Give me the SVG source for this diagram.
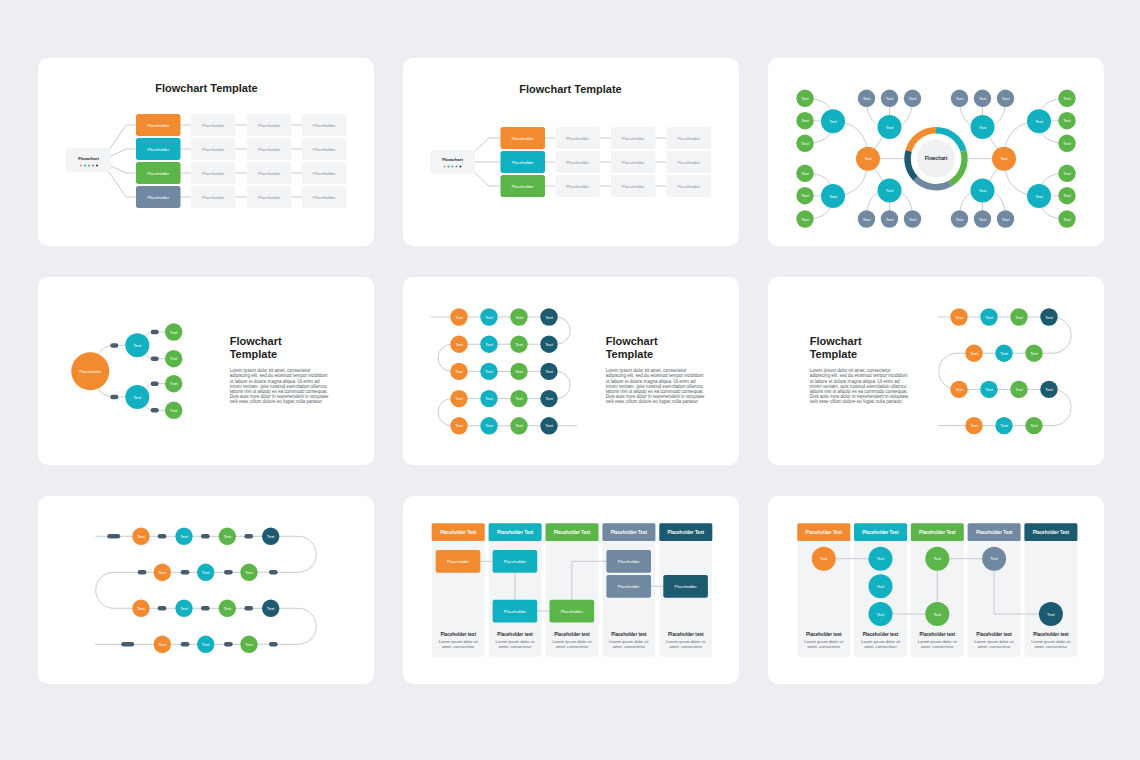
<svg xmlns="http://www.w3.org/2000/svg" width="1140" height="760" viewBox="0 0 1140 760">
<defs><style>
text{font-family:"Liberation Sans",Arial,sans-serif;text-anchor:middle}
.bg{fill:#eceef1}
.card{fill:#fff}
.ttl{font-size:11px;font-weight:bold;fill:#1e1e20}
.ttl2{font-size:11px;font-weight:bold;fill:#1e1e20;text-anchor:start}
.para{font-size:4.55px;fill:#545c66;text-anchor:start}
.w{font-size:4.2px;fill:#fff}
.wb{font-size:4.6px;fill:#fff;font-weight:bold}
.g{font-size:4.3px;fill:#8b9199}
.nb{font-size:4.6px;fill:#26282b;font-weight:bold}
.sm{font-size:4.1px;fill:#5e656e}
.ln{fill:none;stroke:#b9bec4;stroke-width:0.8}
.o{fill:#f28a30}.t{fill:#12b1c1}.gr{fill:#5cb548}.s{fill:#7088a0}.d{fill:#1c5a70}
.gb{fill:#f3f4f5}
.pill{fill:#485c6e}
.col{fill:#f3f4f6}
.ring{fill:none;stroke-width:6.4}
</style></defs>
<rect class="bg" x="0" y="0" width="1140" height="760"/>

<!-- ===== Slide 1 ===== -->
<g id="card1"><rect class="card" x="38" y="58" width="336" height="188" rx="10"/>
<text class="ttl" x="206.5" y="92">Flowchart Template</text></g>
<g id="s1-connectors">
<path class="ln" d="M109,150 L126,125 H136 M111,156 L126,149 H136 M111,166 L126,173 H136 M109,172 L126,197 H136"/>
<path class="ln" d="M180.5,125H191M235.5,125H247M291.5,125H302M180.5,149H191M235.5,149H247M291.5,149H302M180.5,173H191M235.5,173H247M291.5,173H302M180.5,197H191M235.5,197H247M291.5,197H302"/>
</g>
<g id="s1-root"><rect class="gb" x="66" y="148" width="45" height="24" rx="3"/><text class="nb" x="88.5" y="159.8" style="font-size:4.4px">Flowchart</text>
<circle class="o" cx="81" cy="165.5" r="1"/><circle class="t" cx="85" cy="165.5" r="1"/><circle class="gr" cx="89" cy="165.5" r="1"/><circle class="s" cx="93" cy="165.5" r="1"/><circle fill="#1f2b33" cx="97" cy="165.5" r="1"/></g>
<g id="s1-a1"><rect class="o" x="136" y="114" width="44.5" height="22" rx="2.5"/><text class="w" x="158.2" y="126.5">Placeholder</text></g>
<g id="s1-a2"><rect class="t" x="136" y="138" width="44.5" height="22" rx="2.5"/><text class="w" x="158.2" y="150.5">Placeholder</text></g>
<g id="s1-a3"><rect class="gr" x="136" y="162" width="44.5" height="22" rx="2.5"/><text class="w" x="158.2" y="174.5">Placeholder</text></g>
<g id="s1-a4"><rect class="s" x="136" y="186" width="44.5" height="22" rx="2.5"/><text class="w" x="158.2" y="198.5">Placeholder</text></g>
<g id="s1-b1"><rect class="gb" x="191" y="114" width="44.5" height="22" rx="2.5"/><text class="g" x="213.2" y="126.5">Placeholder</text></g>
<g id="s1-b2"><rect class="gb" x="191" y="138" width="44.5" height="22" rx="2.5"/><text class="g" x="213.2" y="150.5">Placeholder</text></g>
<g id="s1-b3"><rect class="gb" x="191" y="162" width="44.5" height="22" rx="2.5"/><text class="g" x="213.2" y="174.5">Placeholder</text></g>
<g id="s1-b4"><rect class="gb" x="191" y="186" width="44.5" height="22" rx="2.5"/><text class="g" x="213.2" y="198.5">Placeholder</text></g>
<g id="s1-c1"><rect class="gb" x="247" y="114" width="44.5" height="22" rx="2.5"/><text class="g" x="269.2" y="126.5">Placeholder</text></g>
<g id="s1-c2"><rect class="gb" x="247" y="138" width="44.5" height="22" rx="2.5"/><text class="g" x="269.2" y="150.5">Placeholder</text></g>
<g id="s1-c3"><rect class="gb" x="247" y="162" width="44.5" height="22" rx="2.5"/><text class="g" x="269.2" y="174.5">Placeholder</text></g>
<g id="s1-c4"><rect class="gb" x="247" y="186" width="44.5" height="22" rx="2.5"/><text class="g" x="269.2" y="198.5">Placeholder</text></g>
<g id="s1-d1"><rect class="gb" x="302" y="114" width="44.5" height="22" rx="2.5"/><text class="g" x="324.2" y="126.5">Placeholder</text></g>
<g id="s1-d2"><rect class="gb" x="302" y="138" width="44.5" height="22" rx="2.5"/><text class="g" x="324.2" y="150.5">Placeholder</text></g>
<g id="s1-d3"><rect class="gb" x="302" y="162" width="44.5" height="22" rx="2.5"/><text class="g" x="324.2" y="174.5">Placeholder</text></g>
<g id="s1-d4"><rect class="gb" x="302" y="186" width="44.5" height="22" rx="2.5"/><text class="g" x="324.2" y="198.5">Placeholder</text></g>

<!-- ===== Slide 2 ===== -->
<g id="card2"><rect class="card" x="403" y="58" width="336" height="188" rx="10"/>
<text class="ttl" x="570.5" y="92.5">Flowchart Template</text></g>
<g id="s2-connectors">
<path class="ln" d="M474.5,151.5 L489,138 H500.5 M475,162 H500.5 M474.5,172.5 L489,186 H500.5"/>
<path class="ln" d="M545,138H555.5M600,138H611M655.5,138H666.5M545,162H555.5M600,162H611M655.5,162H666.5M545,186H555.5M600,186H611M655.5,186H666.5"/>
</g>
<g id="s2-root"><rect class="gb" x="430" y="150" width="45" height="23.5" rx="3"/><text class="nb" x="452.5" y="161.3" style="font-size:4.4px">Flowchart</text>
<circle class="o" cx="444.5" cy="166.5" r="1"/><circle class="t" cx="448.5" cy="166.5" r="1"/><circle class="gr" cx="452.5" cy="166.5" r="1"/><circle class="s" cx="456.5" cy="166.5" r="1"/><circle fill="#1f2b33" cx="460.5" cy="166.5" r="1"/></g>
<g id="s2-a1"><rect class="o" x="500.5" y="127" width="44.5" height="22" rx="2.5"/><text class="w" x="522.7" y="139.5">Placeholder</text></g>
<g id="s2-a2"><rect class="t" x="500.5" y="151" width="44.5" height="22" rx="2.5"/><text class="w" x="522.7" y="163.5">Placeholder</text></g>
<g id="s2-a3"><rect class="gr" x="500.5" y="175" width="44.5" height="22" rx="2.5"/><text class="w" x="522.7" y="187.5">Placeholder</text></g>
<g id="s2-b1"><rect class="gb" x="555.5" y="127" width="44.5" height="22" rx="2.5"/><text class="g" x="577.7" y="139.5">Placeholder</text></g>
<g id="s2-b2"><rect class="gb" x="555.5" y="151" width="44.5" height="22" rx="2.5"/><text class="g" x="577.7" y="163.5">Placeholder</text></g>
<g id="s2-b3"><rect class="gb" x="555.5" y="175" width="44.5" height="22" rx="2.5"/><text class="g" x="577.7" y="187.5">Placeholder</text></g>
<g id="s2-c1"><rect class="gb" x="611" y="127" width="44.5" height="22" rx="2.5"/><text class="g" x="633.2" y="139.5">Placeholder</text></g>
<g id="s2-c2"><rect class="gb" x="611" y="151" width="44.5" height="22" rx="2.5"/><text class="g" x="633.2" y="163.5">Placeholder</text></g>
<g id="s2-c3"><rect class="gb" x="611" y="175" width="44.5" height="22" rx="2.5"/><text class="g" x="633.2" y="187.5">Placeholder</text></g>
<g id="s2-d1"><rect class="gb" x="666.5" y="127" width="44.5" height="22" rx="2.5"/><text class="g" x="688.7" y="139.5">Placeholder</text></g>
<g id="s2-d2"><rect class="gb" x="666.5" y="151" width="44.5" height="22" rx="2.5"/><text class="g" x="688.7" y="163.5">Placeholder</text></g>
<g id="s2-d3"><rect class="gb" x="666.5" y="175" width="44.5" height="22" rx="2.5"/><text class="g" x="688.7" y="187.5">Placeholder</text></g>

<!-- ===== Slide 3 ===== -->
<g id="card3"><rect class="card" x="768" y="58" width="336" height="188" rx="10"/></g>
<g id="s3-connectors">
<path class="ln" d="M868,158.7H904M868,158.7L889.5,127M868,158.7L889.5,190.5M833,121.3C856,121.3 868,136 868,158.7M833,196C856,196 868,181 868,158.7M805,98.3C824,98.3 833,106 833,121.3M805,120.7L833,121.3M805,143.3C824,143.3 833,136 833,121.3M805,173.3C824,173.3 833,181 833,196M805,195.7L833,196M805,219C824,219 833,211 833,196M866.5,98.3C866.5,117 874,127 889.5,127M889.5,98.3V127M912.5,98.3C912.5,117 905,127 889.5,127M866.5,219C866.5,200 874,190.5 889.5,190.5M889.5,219V190.5M912.5,219C912.5,200 905,190.5 889.5,190.5"/>
<path class="ln" d="M1004,158.7H968M1004,158.7L982.5,127M1004,158.7L982.5,190.5M1039,121.3C1016,121.3 1004,136 1004,158.7M1039,196C1016,196 1004,181 1004,158.7M1067,98.3C1048,98.3 1039,106 1039,121.3M1067,120.7L1039,121.3M1067,143.3C1048,143.3 1039,136 1039,121.3M1067,173.3C1048,173.3 1039,181 1039,196M1067,195.7L1039,196M1067,219C1048,219 1039,211 1039,196M1005.5,98.3C1005.5,117 998,127 982.5,127M982.5,98.3V127M959.5,98.3C959.5,117 967,127 982.5,127M1005.5,219C1005.5,200 998,190.5 982.5,190.5M982.5,219V190.5M959.5,219C959.5,200 967,190.5 982.5,190.5"/>
</g>
<g id="s3-center">
<path class="ring" stroke="#f28a30" d="M908.6,150.8A28.5,28.5 0 0 1 936,130.2"/>
<path class="ring" stroke="#12b1c1" d="M936,130.2A28.5,28.5 0 0 1 963.4,150.8"/>
<path class="ring" stroke="#5cb548" d="M963.4,150.8A28.5,28.5 0 0 1 950.25,183.4"/>
<path class="ring" stroke="#7088a0" d="M950.25,183.4A28.5,28.5 0 0 1 915.5,178.5"/>
<path class="ring" stroke="#1c5a70" d="M915.5,178.5A28.5,28.5 0 0 1 908.6,150.8"/>
<circle cx="936" cy="158.7" r="19" fill="#f0f1f3"/>
<text class="nb" x="936" y="160.3" style="font-size:4.8px">Flowchart</text></g>
<g id="s3-o1"><circle class="o" cx="868" cy="158.7" r="12"/><text class="w" x="868" y="160.2">Text</text></g>
<g id="s3-o2"><circle class="o" cx="1004" cy="158.7" r="12"/><text class="w" x="1004" y="160.2">Text</text></g>
<g id="s3-t1"><circle class="t" cx="833" cy="121.3" r="12"/><text class="w" x="833" y="122.8">Text</text></g>
<g id="s3-t2"><circle class="t" cx="833" cy="196" r="12"/><text class="w" x="833" y="197.5">Text</text></g>
<g id="s3-t3"><circle class="t" cx="889.5" cy="127" r="12"/><text class="w" x="889.5" y="128.5">Text</text></g>
<g id="s3-t4"><circle class="t" cx="889.5" cy="190.5" r="12"/><text class="w" x="889.5" y="192">Text</text></g>
<g id="s3-t5"><circle class="t" cx="982.5" cy="127" r="12"/><text class="w" x="982.5" y="128.5">Text</text></g>
<g id="s3-t6"><circle class="t" cx="982.5" cy="190.5" r="12"/><text class="w" x="982.5" y="192">Text</text></g>
<g id="s3-t7"><circle class="t" cx="1039" cy="121.3" r="12"/><text class="w" x="1039" y="122.8">Text</text></g>
<g id="s3-t8"><circle class="t" cx="1039" cy="196" r="12"/><text class="w" x="1039" y="197.5">Text</text></g>
<g id="s3-g1"><circle class="gr" cx="805" cy="98.3" r="8.7"/><text class="w" x="805" y="99.8">Text</text></g>
<g id="s3-g2"><circle class="gr" cx="805" cy="120.7" r="8.7"/><text class="w" x="805" y="122.2">Text</text></g>
<g id="s3-g3"><circle class="gr" cx="805" cy="143.3" r="8.7"/><text class="w" x="805" y="144.8">Text</text></g>
<g id="s3-g4"><circle class="gr" cx="805" cy="173.3" r="8.7"/><text class="w" x="805" y="174.8">Text</text></g>
<g id="s3-g5"><circle class="gr" cx="805" cy="195.7" r="8.7"/><text class="w" x="805" y="197.2">Text</text></g>
<g id="s3-g6"><circle class="gr" cx="805" cy="219" r="8.7"/><text class="w" x="805" y="220.5">Text</text></g>
<g id="s3-g7"><circle class="gr" cx="1067" cy="98.3" r="8.7"/><text class="w" x="1067" y="99.8">Text</text></g>
<g id="s3-g8"><circle class="gr" cx="1067" cy="120.7" r="8.7"/><text class="w" x="1067" y="122.2">Text</text></g>
<g id="s3-g9"><circle class="gr" cx="1067" cy="143.3" r="8.7"/><text class="w" x="1067" y="144.8">Text</text></g>
<g id="s3-g10"><circle class="gr" cx="1067" cy="173.3" r="8.7"/><text class="w" x="1067" y="174.8">Text</text></g>
<g id="s3-g11"><circle class="gr" cx="1067" cy="195.7" r="8.7"/><text class="w" x="1067" y="197.2">Text</text></g>
<g id="s3-g12"><circle class="gr" cx="1067" cy="219" r="8.7"/><text class="w" x="1067" y="220.5">Text</text></g>
<g id="s3-s1"><circle class="s" cx="866.5" cy="98.3" r="8.7"/><text class="w" x="866.5" y="99.8">Text</text></g>
<g id="s3-s2"><circle class="s" cx="889.5" cy="98.3" r="8.7"/><text class="w" x="889.5" y="99.8">Text</text></g>
<g id="s3-s3"><circle class="s" cx="912.5" cy="98.3" r="8.7"/><text class="w" x="912.5" y="99.8">Text</text></g>
<g id="s3-s4"><circle class="s" cx="866.5" cy="219" r="8.7"/><text class="w" x="866.5" y="220.5">Text</text></g>
<g id="s3-s5"><circle class="s" cx="889.5" cy="219" r="8.7"/><text class="w" x="889.5" y="220.5">Text</text></g>
<g id="s3-s6"><circle class="s" cx="912.5" cy="219" r="8.7"/><text class="w" x="912.5" y="220.5">Text</text></g>
<g id="s3-s7"><circle class="s" cx="959.5" cy="98.3" r="8.7"/><text class="w" x="959.5" y="99.8">Text</text></g>
<g id="s3-s8"><circle class="s" cx="982.5" cy="98.3" r="8.7"/><text class="w" x="982.5" y="99.8">Text</text></g>
<g id="s3-s9"><circle class="s" cx="1005.5" cy="98.3" r="8.7"/><text class="w" x="1005.5" y="99.8">Text</text></g>
<g id="s3-s10"><circle class="s" cx="959.5" cy="219" r="8.7"/><text class="w" x="959.5" y="220.5">Text</text></g>
<g id="s3-s11"><circle class="s" cx="982.5" cy="219" r="8.7"/><text class="w" x="982.5" y="220.5">Text</text></g>
<g id="s3-s12"><circle class="s" cx="1005.5" cy="219" r="8.7"/><text class="w" x="1005.5" y="220.5">Text</text></g>

<!-- ===== Slide 4 ===== -->
<g id="card4"><rect class="card" x="38" y="277" width="336" height="188" rx="10"/>
<text class="ttl2" x="229.7" y="344.7">Flowchart</text><text class="ttl2" x="229.7" y="358.3">Template</text>
<text class="para" x="229.7" y="372.2">Lorem ipsum dolor sit amet, consectetur</text>
<text class="para" x="229.7" y="377.4">adipiscing elit, sed do eiusmod tempor incididunt</text>
<text class="para" x="229.7" y="382.6">ut labore et dolore magna aliqua. Ut enim ad</text>
<text class="para" x="229.7" y="387.8">minim veniam, quis nostrud exercitation ullamco</text>
<text class="para" x="229.7" y="393">laboris nisi ut aliquip ex ea commodo consequat.</text>
<text class="para" x="229.7" y="398.2">Duis aute irure dolor in reprehenderit in voluptate</text>
<text class="para" x="229.7" y="403.4">velit esse cillum dolore eu fugiat nulla pariatur.</text></g>
<g id="s4-connectors">
<path class="ln" d="M98,353.7C103,348 107,345.3 114.3,345.3H137.3M98,389C103,394.5 107,397 114.3,397H137.3M137.3,345.3C145,336 148,332 155,332H173.7M137.3,345.3C145,355 148,358.7 155,358.7H173.7M137.3,397C145,388 148,383.7 155,383.7H173.7M137.3,397C145,406 148,410.3 155,410.3H173.7"/>
</g>
<g id="s4-root"><circle class="o" cx="90.3" cy="371.3" r="19"/><text class="w" x="90.3" y="372.8">Placeholder</text></g>
<g id="s4-t1"><circle class="t" cx="137.3" cy="345.3" r="12"/><text class="w" x="137.3" y="346.8">Text</text></g>
<g id="s4-t2"><circle class="t" cx="137.3" cy="397" r="12"/><text class="w" x="137.3" y="398.5">Text</text></g>
<g id="s4-g1"><circle class="gr" cx="173.7" cy="332" r="8.7"/><text class="w" x="173.7" y="333.5">Text</text></g>
<g id="s4-g2"><circle class="gr" cx="173.7" cy="358.7" r="8.7"/><text class="w" x="173.7" y="360.2">Text</text></g>
<g id="s4-g3"><circle class="gr" cx="173.7" cy="383.7" r="8.7"/><text class="w" x="173.7" y="385.2">Text</text></g>
<g id="s4-g4"><circle class="gr" cx="173.7" cy="410.3" r="8.7"/><text class="w" x="173.7" y="411.8">Text</text></g>
<g id="s4-pills">
<rect class="pill" x="110.3" y="343.3" width="8" height="4.4" rx="2.2"/>
<rect class="pill" x="110.3" y="394.8" width="8" height="4.4" rx="2.2"/>
<rect class="pill" x="150.7" y="329.8" width="8" height="4.4" rx="2.2"/>
<rect class="pill" x="150.7" y="356.5" width="8" height="4.4" rx="2.2"/>
<rect class="pill" x="150.7" y="381.5" width="8" height="4.4" rx="2.2"/>
<rect class="pill" x="150.7" y="408.1" width="8" height="4.4" rx="2.2"/></g>

<!-- ===== Slide 5 ===== -->
<g id="card5"><rect class="card" x="403" y="277" width="336" height="188" rx="10"/>
<text class="ttl2" x="605.7" y="344.7">Flowchart</text><text class="ttl2" x="605.7" y="358.3">Template</text>
<text class="para" x="605.7" y="372.2">Lorem ipsum dolor sit amet, consectetur</text>
<text class="para" x="605.7" y="377.4">adipiscing elit, sed do eiusmod tempor incididunt</text>
<text class="para" x="605.7" y="382.6">ut labore et dolore magna aliqua. Ut enim ad</text>
<text class="para" x="605.7" y="387.8">minim veniam, quis nostrud exercitation ullamco</text>
<text class="para" x="605.7" y="393">laboris nisi ut aliquip ex ea commodo consequat.</text>
<text class="para" x="605.7" y="398.2">Duis aute irure dolor in reprehenderit in voluptate</text>
<text class="para" x="605.7" y="403.4">velit esse cillum dolore eu fugiat nulla pariatur.</text></g>
<g id="s5-connectors"><path class="ln" d="M431,317H556.6A13.6,13.6 0 0 1 556.6,344.2H451.6A13.6,13.6 0 0 0 451.6,371.4H556.6A13.6,13.6 0 0 1 556.6,398.6H451.6A13.6,13.6 0 0 0 451.6,425.8H577"/></g>
<g id="s5-r1">
<g id="s5-1a"><circle class="o" cx="459" cy="317" r="8.7"/><text class="w" x="459" y="318.5">Text</text></g>
<g id="s5-1b"><circle class="t" cx="489" cy="317" r="8.7"/><text class="w" x="489" y="318.5">Text</text></g>
<g id="s5-1c"><circle class="gr" cx="519" cy="317" r="8.7"/><text class="w" x="519" y="318.5">Text</text></g>
<g id="s5-1d"><circle class="d" cx="549" cy="317" r="8.7"/><text class="w" x="549" y="318.5">Text</text></g></g>
<g id="s5-r2">
<g id="s5-2a"><circle class="o" cx="459" cy="344.2" r="8.7"/><text class="w" x="459" y="345.7">Text</text></g>
<g id="s5-2b"><circle class="t" cx="489" cy="344.2" r="8.7"/><text class="w" x="489" y="345.7">Text</text></g>
<g id="s5-2c"><circle class="gr" cx="519" cy="344.2" r="8.7"/><text class="w" x="519" y="345.7">Text</text></g>
<g id="s5-2d"><circle class="d" cx="549" cy="344.2" r="8.7"/><text class="w" x="549" y="345.7">Text</text></g></g>
<g id="s5-r3">
<g id="s5-3a"><circle class="o" cx="459" cy="371.4" r="8.7"/><text class="w" x="459" y="372.9">Text</text></g>
<g id="s5-3b"><circle class="t" cx="489" cy="371.4" r="8.7"/><text class="w" x="489" y="372.9">Text</text></g>
<g id="s5-3c"><circle class="gr" cx="519" cy="371.4" r="8.7"/><text class="w" x="519" y="372.9">Text</text></g>
<g id="s5-3d"><circle class="d" cx="549" cy="371.4" r="8.7"/><text class="w" x="549" y="372.9">Text</text></g></g>
<g id="s5-r4">
<g id="s5-4a"><circle class="o" cx="459" cy="398.6" r="8.7"/><text class="w" x="459" y="400.1">Text</text></g>
<g id="s5-4b"><circle class="t" cx="489" cy="398.6" r="8.7"/><text class="w" x="489" y="400.1">Text</text></g>
<g id="s5-4c"><circle class="gr" cx="519" cy="398.6" r="8.7"/><text class="w" x="519" y="400.1">Text</text></g>
<g id="s5-4d"><circle class="d" cx="549" cy="398.6" r="8.7"/><text class="w" x="549" y="400.1">Text</text></g></g>
<g id="s5-r5">
<g id="s5-5a"><circle class="o" cx="459" cy="425.8" r="8.7"/><text class="w" x="459" y="427.3">Text</text></g>
<g id="s5-5b"><circle class="t" cx="489" cy="425.8" r="8.7"/><text class="w" x="489" y="427.3">Text</text></g>
<g id="s5-5c"><circle class="gr" cx="519" cy="425.8" r="8.7"/><text class="w" x="519" y="427.3">Text</text></g>
<g id="s5-5d"><circle class="d" cx="549" cy="425.8" r="8.7"/><text class="w" x="549" y="427.3">Text</text></g></g>

<!-- ===== Slide 6 ===== -->
<g id="card6"><rect class="card" x="768" y="277" width="336" height="188" rx="10"/>
<text class="ttl2" x="809.7" y="344.7">Flowchart</text><text class="ttl2" x="809.7" y="358.3">Template</text>
<text class="para" x="809.7" y="372.2">Lorem ipsum dolor sit amet, consectetur</text>
<text class="para" x="809.7" y="377.4">adipiscing elit, sed do eiusmod tempor incididunt</text>
<text class="para" x="809.7" y="382.6">ut labore et dolore magna aliqua. Ut enim ad</text>
<text class="para" x="809.7" y="387.8">minim veniam, quis nostrud exercitation ullamco</text>
<text class="para" x="809.7" y="393">laboris nisi ut aliquip ex ea commodo consequat.</text>
<text class="para" x="809.7" y="398.2">Duis aute irure dolor in reprehenderit in voluptate</text>
<text class="para" x="809.7" y="403.4">velit esse cillum dolore eu fugiat nulla pariatur.</text></g>
<g id="s6-connectors"><path class="ln" d="M938,317H1053A18.1,18.1 0 0 1 1053,353.2H956.8A18.1,18.1 0 0 0 956.8,389.4H1053A18.1,18.1 0 0 1 1053,425.6H938"/></g>
<g id="s6-1a"><circle class="o" cx="959" cy="317" r="8.7"/><text class="w" x="959" y="318.5">Text</text></g>
<g id="s6-1b"><circle class="t" cx="989" cy="317" r="8.7"/><text class="w" x="989" y="318.5">Text</text></g>
<g id="s6-1c"><circle class="gr" cx="1019" cy="317" r="8.7"/><text class="w" x="1019" y="318.5">Text</text></g>
<g id="s6-1d"><circle class="d" cx="1049" cy="317" r="8.7"/><text class="w" x="1049" y="318.5">Text</text></g>
<g id="s6-2a"><circle class="o" cx="974" cy="353.2" r="8.7"/><text class="w" x="974" y="354.7">Text</text></g>
<g id="s6-2b"><circle class="t" cx="1004" cy="353.2" r="8.7"/><text class="w" x="1004" y="354.7">Text</text></g>
<g id="s6-2c"><circle class="gr" cx="1034" cy="353.2" r="8.7"/><text class="w" x="1034" y="354.7">Text</text></g>
<g id="s6-3a"><circle class="o" cx="959" cy="389.4" r="8.7"/><text class="w" x="959" y="390.9">Text</text></g>
<g id="s6-3b"><circle class="t" cx="989" cy="389.4" r="8.7"/><text class="w" x="989" y="390.9">Text</text></g>
<g id="s6-3c"><circle class="gr" cx="1019" cy="389.4" r="8.7"/><text class="w" x="1019" y="390.9">Text</text></g>
<g id="s6-3d"><circle class="d" cx="1049" cy="389.4" r="8.7"/><text class="w" x="1049" y="390.9">Text</text></g>
<g id="s6-4a"><circle class="o" cx="974" cy="425.6" r="8.7"/><text class="w" x="974" y="427.1">Text</text></g>
<g id="s6-4b"><circle class="t" cx="1004" cy="425.6" r="8.7"/><text class="w" x="1004" y="427.1">Text</text></g>
<g id="s6-4c"><circle class="gr" cx="1034" cy="425.6" r="8.7"/><text class="w" x="1034" y="427.1">Text</text></g>

<!-- ===== Slide 7 ===== -->
<g id="card7"><rect class="card" x="38" y="496" width="336" height="188" rx="10"/></g>
<g id="s7-connectors"><path class="ln" d="M95.3,536.3H298.3A18,18 0 0 1 298.3,572.3H113.7A18,18 0 0 0 113.7,608.3H298.3A18,18 0 0 1 298.3,644.3H95.3"/></g>
<g id="s7-pills">
<rect class="pill" x="107.2" y="534" width="13" height="4.6" rx="2.3"/>
<rect class="pill" x="157.7" y="534.1" width="8.7" height="4.4" rx="2.2"/>
<rect class="pill" x="201" y="534.1" width="8.7" height="4.4" rx="2.2"/>
<rect class="pill" x="244.4" y="534.1" width="8.7" height="4.4" rx="2.2"/>
<rect class="pill" x="137.7" y="570.1" width="8.7" height="4.4" rx="2.2"/>
<rect class="pill" x="180.7" y="570.1" width="8.7" height="4.4" rx="2.2"/>
<rect class="pill" x="224" y="570.1" width="8.7" height="4.4" rx="2.2"/>
<rect class="pill" x="269" y="570.1" width="8.7" height="4.4" rx="2.2"/>
<rect class="pill" x="157.7" y="606.1" width="8.7" height="4.4" rx="2.2"/>
<rect class="pill" x="201" y="606.1" width="8.7" height="4.4" rx="2.2"/>
<rect class="pill" x="244.4" y="606.1" width="8.7" height="4.4" rx="2.2"/>
<rect class="pill" x="121.2" y="642" width="13" height="4.6" rx="2.3"/>
<rect class="pill" x="180.7" y="642.1" width="8.7" height="4.4" rx="2.2"/>
<rect class="pill" x="224" y="642.1" width="8.7" height="4.4" rx="2.2"/>
<rect class="pill" x="269" y="642.1" width="8.7" height="4.4" rx="2.2"/></g>
<g id="s7-1a"><circle class="o" cx="141" cy="536.3" r="8.7"/><text class="w" x="141" y="537.8">Text</text></g>
<g id="s7-1b"><circle class="t" cx="184" cy="536.3" r="8.7"/><text class="w" x="184" y="537.8">Text</text></g>
<g id="s7-1c"><circle class="gr" cx="227.3" cy="536.3" r="8.7"/><text class="w" x="227.3" y="537.8">Text</text></g>
<g id="s7-1d"><circle class="d" cx="270.7" cy="536.3" r="8.7"/><text class="w" x="270.7" y="537.8">Text</text></g>
<g id="s7-2a"><circle class="o" cx="162.3" cy="572.3" r="8.7"/><text class="w" x="162.3" y="573.8">Text</text></g>
<g id="s7-2b"><circle class="t" cx="205.7" cy="572.3" r="8.7"/><text class="w" x="205.7" y="573.8">Text</text></g>
<g id="s7-2c"><circle class="gr" cx="249" cy="572.3" r="8.7"/><text class="w" x="249" y="573.8">Text</text></g>
<g id="s7-3a"><circle class="o" cx="141" cy="608.3" r="8.7"/><text class="w" x="141" y="609.8">Text</text></g>
<g id="s7-3b"><circle class="t" cx="184" cy="608.3" r="8.7"/><text class="w" x="184" y="609.8">Text</text></g>
<g id="s7-3c"><circle class="gr" cx="227.3" cy="608.3" r="8.7"/><text class="w" x="227.3" y="609.8">Text</text></g>
<g id="s7-3d"><circle class="d" cx="270.7" cy="608.3" r="8.7"/><text class="w" x="270.7" y="609.8">Text</text></g>
<g id="s7-4a"><circle class="o" cx="162.3" cy="644.3" r="8.7"/><text class="w" x="162.3" y="645.8">Text</text></g>
<g id="s7-4b"><circle class="t" cx="205.7" cy="644.3" r="8.7"/><text class="w" x="205.7" y="645.8">Text</text></g>
<g id="s7-4c"><circle class="gr" cx="249" cy="644.3" r="8.7"/><text class="w" x="249" y="645.8">Text</text></g>

<!-- ===== Slide 8 ===== -->
<g id="card8"><rect class="card" x="403" y="496" width="336" height="188" rx="10"/></g>
<g id="s8-columns">
<rect class="col" x="431.7" y="523.3" width="53" height="133.4" rx="2.5"/>
<rect class="col" x="488.6" y="523.3" width="53" height="133.4" rx="2.5"/>
<rect class="col" x="545.5" y="523.3" width="53" height="133.4" rx="2.5"/>
<rect class="col" x="602.4" y="523.3" width="53" height="133.4" rx="2.5"/>
<rect class="col" x="659.3" y="523.3" width="53" height="133.4" rx="2.5"/>
<rect class="o" x="431.7" y="523.3" width="53" height="17.7" rx="1.5"/><text class="wb" x="458.2" y="533.7">Placeholder Text</text>
<rect class="t" x="488.6" y="523.3" width="53" height="17.7" rx="1.5"/><text class="wb" x="515.1" y="533.7">Placeholder Text</text>
<rect class="gr" x="545.5" y="523.3" width="53" height="17.7" rx="1.5"/><text class="wb" x="572" y="533.7">Placeholder Text</text>
<rect class="s" x="602.4" y="523.3" width="53" height="17.7" rx="1.5"/><text class="wb" x="628.9" y="533.7">Placeholder Text</text>
<rect class="d" x="659.3" y="523.3" width="53" height="17.7" rx="1.5"/><text class="wb" x="685.8" y="533.7">Placeholder Text</text>
<text class="nb" x="458.2" y="636">Placeholder text</text><text class="sm" x="458.2" y="643">Lorem ipsum dolor sit</text><text class="sm" x="458.2" y="648.4">amet, consectetur</text>
<text class="nb" x="515.1" y="636">Placeholder text</text><text class="sm" x="515.1" y="643">Lorem ipsum dolor sit</text><text class="sm" x="515.1" y="648.4">amet, consectetur</text>
<text class="nb" x="572" y="636">Placeholder text</text><text class="sm" x="572" y="643">Lorem ipsum dolor sit</text><text class="sm" x="572" y="648.4">amet, consectetur</text>
<text class="nb" x="628.9" y="636">Placeholder text</text><text class="sm" x="628.9" y="643">Lorem ipsum dolor sit</text><text class="sm" x="628.9" y="648.4">amet, consectetur</text>
<text class="nb" x="685.8" y="636">Placeholder text</text><text class="sm" x="685.8" y="643">Lorem ipsum dolor sit</text><text class="sm" x="685.8" y="648.4">amet, consectetur</text>
</g>
<g id="s8-connectors"><path class="ln" d="M480.3,561.3H492.6M515,572.7V599.7M537.2,611H549.5M571.8,599.7V561.3H606.4M651,586.3H663.3"/></g>
<g id="s8-n1"><rect class="o" x="435.7" y="550" width="44.6" height="22.7" rx="2"/><text class="w" x="458" y="562.8">Placeholder</text></g>
<g id="s8-n2"><rect class="t" x="492.6" y="550" width="44.6" height="22.7" rx="2"/><text class="w" x="514.9" y="562.8">Placeholder</text></g>
<g id="s8-n3"><rect class="t" x="492.6" y="599.7" width="44.6" height="22.7" rx="2"/><text class="w" x="514.9" y="612.5">Placeholder</text></g>
<g id="s8-n4"><rect class="gr" x="549.5" y="599.7" width="44.6" height="22.7" rx="2"/><text class="w" x="571.8" y="612.5">Placeholder</text></g>
<g id="s8-n5"><rect class="s" x="606.4" y="550" width="44.6" height="22.7" rx="2"/><text class="w" x="628.7" y="562.8">Placeholder</text></g>
<g id="s8-n6"><rect class="s" x="606.4" y="575" width="44.6" height="22.7" rx="2"/><text class="w" x="628.7" y="587.8">Placeholder</text></g>
<g id="s8-n7"><rect class="d" x="663.3" y="575" width="44.6" height="22.7" rx="2"/><text class="w" x="685.6" y="587.8">Placeholder</text></g>

<!-- ===== Slide 9 ===== -->
<g id="card9"><rect class="card" x="768" y="496" width="336" height="188" rx="10"/></g>
<g id="s9-columns">
<rect class="col" x="797.3" y="523.3" width="53" height="133.4" rx="2.5"/>
<rect class="col" x="854" y="523.3" width="53" height="133.4" rx="2.5"/>
<rect class="col" x="910.8" y="523.3" width="53" height="133.4" rx="2.5"/>
<rect class="col" x="967.6" y="523.3" width="53" height="133.4" rx="2.5"/>
<rect class="col" x="1024.4" y="523.3" width="53" height="133.4" rx="2.5"/>
<rect class="o" x="797.3" y="523.3" width="53" height="17.7" rx="1.5"/><text class="wb" x="823.8" y="533.7">Placeholder Text</text>
<rect class="t" x="854" y="523.3" width="53" height="17.7" rx="1.5"/><text class="wb" x="880.5" y="533.7">Placeholder Text</text>
<rect class="gr" x="910.8" y="523.3" width="53" height="17.7" rx="1.5"/><text class="wb" x="937.3" y="533.7">Placeholder Text</text>
<rect class="s" x="967.6" y="523.3" width="53" height="17.7" rx="1.5"/><text class="wb" x="994.1" y="533.7">Placeholder Text</text>
<rect class="d" x="1024.4" y="523.3" width="53" height="17.7" rx="1.5"/><text class="wb" x="1050.9" y="533.7">Placeholder Text</text>
<text class="nb" x="823.8" y="636">Placeholder text</text><text class="sm" x="823.8" y="643">Lorem ipsum dolor sit</text><text class="sm" x="823.8" y="648.4">amet, consectetur</text>
<text class="nb" x="880.5" y="636">Placeholder text</text><text class="sm" x="880.5" y="643">Lorem ipsum dolor sit</text><text class="sm" x="880.5" y="648.4">amet, consectetur</text>
<text class="nb" x="937.3" y="636">Placeholder text</text><text class="sm" x="937.3" y="643">Lorem ipsum dolor sit</text><text class="sm" x="937.3" y="648.4">amet, consectetur</text>
<text class="nb" x="994.1" y="636">Placeholder text</text><text class="sm" x="994.1" y="643">Lorem ipsum dolor sit</text><text class="sm" x="994.1" y="648.4">amet, consectetur</text>
<text class="nb" x="1050.9" y="636">Placeholder text</text><text class="sm" x="1050.9" y="643">Lorem ipsum dolor sit</text><text class="sm" x="1050.9" y="648.4">amet, consectetur</text>
</g>
<g id="s9-connectors"><path class="ln" d="M823.7,558.7H880.5M880.5,614H937.3M937.3,614V558.7M937.3,558.7H994.1M994.1,558.7V614H1050.9"/></g>
<g id="s9-n1"><circle class="o" cx="823.7" cy="558.7" r="12"/><text class="w" x="823.7" y="560.2">Text</text></g>
<g id="s9-n2"><circle class="t" cx="880.5" cy="558.7" r="12"/><text class="w" x="880.5" y="560.2">Text</text></g>
<g id="s9-n3"><circle class="t" cx="880.5" cy="586.3" r="12"/><text class="w" x="880.5" y="587.8">Text</text></g>
<g id="s9-n4"><circle class="t" cx="880.5" cy="614" r="12"/><text class="w" x="880.5" y="615.5">Text</text></g>
<g id="s9-n5"><circle class="gr" cx="937.3" cy="558.7" r="12"/><text class="w" x="937.3" y="560.2">Text</text></g>
<g id="s9-n6"><circle class="gr" cx="937.3" cy="614" r="12"/><text class="w" x="937.3" y="615.5">Text</text></g>
<g id="s9-n7"><circle class="s" cx="994.1" cy="558.7" r="12"/><text class="w" x="994.1" y="560.2">Text</text></g>
<g id="s9-n8"><circle class="d" cx="1050.9" cy="614" r="12"/><text class="w" x="1050.9" y="615.5">Text</text></g>
</svg>
